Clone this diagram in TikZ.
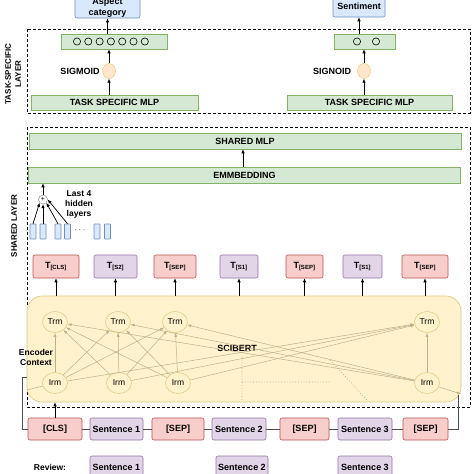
\documentclass[tikz,border=0pt]{standalone}
\usepackage{fontspec}
\setmainfont{Liberation Sans}
\usetikzlibrary{arrows.meta,shapes.geometric}
\definecolor{bluef}{HTML}{DAE8FC}\definecolor{blued}{HTML}{6C8EBF}
\definecolor{greenf}{HTML}{D5E8D4}\definecolor{greend}{HTML}{82B366}
\definecolor{orangef}{HTML}{FFE6CC}\definecolor{oranged}{HTML}{D79B00}
\definecolor{redf}{HTML}{F8CECC}\definecolor{redd}{HTML}{B85450}
\definecolor{purpf}{HTML}{E1D5E7}\definecolor{purpd}{HTML}{9673A6}
\definecolor{yellf}{HTML}{FFF2CC}\definecolor{yelld}{HTML}{D6B656}
\definecolor{linkc}{HTML}{BDB08A}
\begin{document}
\begin{tikzpicture}[x=1pt,y=-1pt,font=\bfseries\fontsize{9}{11}\selectfont,
  box/.style={draw,rounded corners=2pt,inner sep=0pt,line width=0.6pt,align=center},
  outbox/.style={box,fill=bluef,draw=blued},
  greenbox/.style={box,rounded corners=0pt,fill=greenf,draw=greend,minimum height=15pt},
  redbox/.style={box,fill=redf,draw=redd},
  purpbox/.style={box,fill=purpf,draw=purpd},
  trm/.style={ellipse,draw=yelld!70,fill=yellf,line width=0.6pt,minimum width=25pt,minimum height=21pt,inner sep=0pt,font=\fontsize{8.5}{9}\selectfont},
  frame/.style={densely dashed,line width=0.6pt},
  arr/.style={-{Latex[length=4pt,width=3.5pt]},line width=0.7pt},
  link/.style={-{Latex[length=4pt,width=3pt]},draw=linkc,line width=0.5pt},
  seq/.style={draw=black!70,line width=0.7pt}]
\clip (0,0) rectangle (474,474);
\fill[white] (0,0) rectangle (474,474);

% task specific layer
\draw[frame] (27,29) rectangle (470,113);
\node[rotate=90,align=center,font=\bfseries\fontsize{8}{10}\selectfont] (tasklbl) at (13,74) {TASK-SPECIFIC\\LAYER};
\node[outbox,minimum width=65pt,minimum height=21pt] (aspect) at (107.5,7.5) {Aspect\\category};
\node[outbox,minimum width=52pt,minimum height=22pt] (senti) at (359,6) {Sentiment};
\node[greenbox,minimum width=106pt] (aspl) at (114,41.5) {};
\node[greenbox,minimum width=61pt] (sentl) at (364.5,41.5) {};
\foreach \k in {0,...,6} \draw[line width=0.6pt] (77+11.3*\k,41.5) circle[radius=3.6pt];
\foreach \xx in {357,376} \draw[line width=0.6pt] (\xx,41.5) circle[radius=3.6pt];
\node[ellipse,draw=oranged!60,fill=orangef,minimum width=13pt,minimum height=15pt,inner sep=0pt] (sig1) at (109,71) {};
\node[ellipse,draw=oranged!60,fill=orangef,minimum width=13pt,minimum height=15pt,inner sep=0pt] (sig2) at (364,71) {};
\node (sig1lbl) at (80,71) {SIGMOID};
\node (sig2lbl) at (332,71) {SIGNOID};
\node[greenbox,minimum width=167pt] (mlp1) at (114.5,102.5) {TASK SPECIFIC MLP};
\node[greenbox,minimum width=165pt] (mlp2) at (369.5,102.5) {TASK SPECIFIC MLP};
\draw[arr] (mlp1.north -| sig1) -- (sig1.south);
\draw[arr] (mlp2.north -| sig2) -- (sig2.south);
\draw[arr] (sig1.north) -- (sig1.north |- aspl.south);
\draw[arr] (sig2.north) -- (sig2.north |- sentl.south);
\draw[arr] (aspl.north -| aspect) -- (aspect.south);
\draw[arr] (sentl.north -| senti) -- (senti.south);

% shared layer
\draw[frame] (27,127) rectangle (470,407);
\node[rotate=90,font=\bfseries\fontsize{8}{10}\selectfont] (sharedlbl) at (14,226) {SHARED LAYER};
\node[greenbox,minimum width=432pt,minimum height=16pt] (smlp) at (245,141) {SHARED MLP};
\node[greenbox,minimum width=432pt,minimum height=16pt] (emb) at (244.5,175) {EMMBEDDING};
\draw[arr] (emb.north -| 243,0) -- (smlp.south -| 243,0);
\node[circle,draw=black!50,minimum size=9pt,inner sep=0pt,font=\fontsize{7}{7}\selectfont] (plus) at (43,199.5) {+};
\draw[arr] (plus.north) -- (plus.north |- emb.south);
\foreach \xx [count=\i] in {33,43,58,67.5,97,107.5}
  \node[box,rounded corners=0.5pt,fill=bluef,draw=blued,minimum width=6pt,minimum height=15pt] (h\i) at (\xx,231.5) {};
\node (hdots) at (80,230) {$\cdots$};
\draw[arr] (h1.north) -- (plus.south west);
\draw[arr] (h2.north) -- (plus.south);
\draw[arr] (h3.north) -- (plus.south east);
\draw[arr] (h4.north) -- (plus.east);
\node[align=center,font=\bfseries\fontsize{8.5}{10}\selectfont] (lastlbl) at (79,204) {Last 4\\hidden\\layers};

% token outputs
\node[redbox,minimum width=46pt,minimum height=23pt] (tk1) at (56,266.5) {T\textsubscript{[CLS]}};
\node[purpbox,minimum width=43pt,minimum height=23pt] (tk2) at (115.5,266.5) {T\textsubscript{[S2]}};
\node[redbox,minimum width=42pt,minimum height=23pt] (tk3) at (175,266.5) {T\textsubscript{[SEP]}};
\node[purpbox,minimum width=38pt,minimum height=23pt] (tk4) at (239,266.5) {T\textsubscript{[S1]}};
\node[redbox,minimum width=37pt,minimum height=23pt] (tk5) at (304.5,266.5) {T\textsubscript{[SEP]}};
\node[purpbox,minimum width=39pt,minimum height=23pt] (tk6) at (362.5,266.5) {T\textsubscript{[S1]}};
\node[redbox,minimum width=46pt,minimum height=23pt] (tk7) at (425,266.5) {T\textsubscript{[SEP]}};

% scibert
\node[draw=yelld!80,fill=yellf,rounded corners=15pt,line width=0.6pt,minimum width=434pt,minimum height=106pt] (sci) at (244,349) {};
\node (scilbl) at (237,348) {SCIBERT};
\foreach \i in {1,...,7} \draw[arr] (tk\i.south |- sci.north) -- (tk\i.south);
\foreach \xx [count=\i] in {55,118,175,427} \node[trm] (t\i) at (\xx,322) {Trm};
\foreach \xx [count=\i] in {55,119,178,427} \node[trm] (b\i) at (\xx,383) {Irm};
\foreach \i in {1,...,4}{\foreach \j in {1,...,4}{\draw[link] (b\i) -- (t\j);}}
\coordinate (encl) at (27,390);
\coordinate (encr) at (461,394);
\draw[link,-] (b1) -- (encl);
\draw[link] (b4) -- (encr);
\draw[dotted,draw=linkc,line width=0.8pt] (242,357) -- (242,400) (242,382) -- (330,382) (330,360) -- (367,400);
\node[align=center,font=\bfseries\fontsize{8.5}{10}\selectfont] (enclbl) at (36,357) {Encoder\\Context};

% input sequence
\node[redbox,minimum width=54pt,minimum height=22pt] (in1) at (55,429) {[CLS]};
\node[purpbox,minimum width=53pt,minimum height=22pt] (in2) at (116.5,429) {Sentence 1};
\node[redbox,minimum width=52pt,minimum height=22pt] (in3) at (178,429) {[SEP]};
\node[purpbox,minimum width=54pt,minimum height=22pt] (in4) at (239,429) {Sentence 2};
\node[redbox,minimum width=49pt,minimum height=22pt] (in5) at (304.5,429) {[SEP]};
\node[purpbox,minimum width=54pt,minimum height=22pt] (in6) at (365,429) {Sentence 3};
\node[redbox,minimum width=45pt,minimum height=22pt] (in7) at (425.5,429) {[SEP]};
\foreach \i [count=\j from 2] in {1,...,6} \draw[seq] (in\i) -- (in\j);
\draw[arr] (in1.north) -- (in1.north |- sci.south);
\coordinate (loopl) at (22,377);
\coordinate (loopr) at (458,395);
\draw[seq] (in1.west) -| (loopl) -- (loopl -| sci.west);
\draw[seq] (in7.east) -| (loopr);

% review
\node[font=\bfseries\fontsize{8.5}{10}\selectfont] (review) at (50,467) {Review:};
\node[purpbox,minimum width=53pt,minimum height=23pt] (rv1) at (116.5,467.5) {Sentence 1};
\node[purpbox,minimum width=52pt,minimum height=23pt] (rv2) at (242,467.5) {Sentence 2};
\node[purpbox,minimum width=54pt,minimum height=23pt] (rv3) at (365,467.5) {Sentence 3};
\end{tikzpicture}
\end{document}
